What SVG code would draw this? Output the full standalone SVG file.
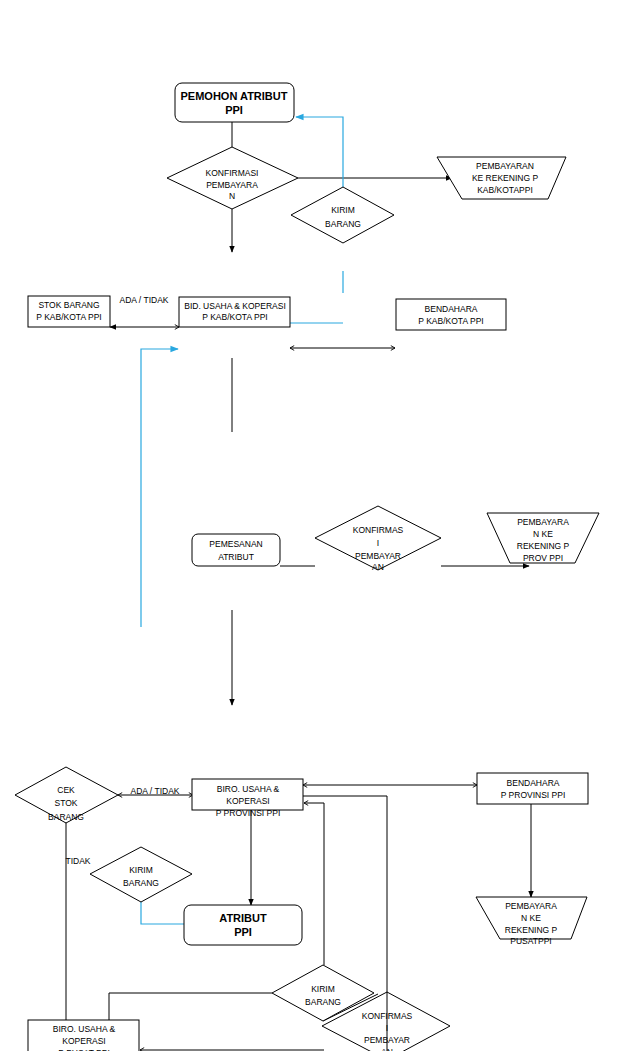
<svg xmlns="http://www.w3.org/2000/svg" width="638" height="1051" viewBox="0 0 638 1051">
<style>
.s{fill:#fff;stroke:#000;stroke-width:1}
.t{font-family:"Liberation Sans",Arial,sans-serif;font-size:8.5px;fill:#000;text-anchor:middle}
.b{font-family:"Liberation Sans",Arial,sans-serif;font-size:11px;font-weight:bold;fill:#000;text-anchor:middle}
.c{fill:none;stroke:#000;stroke-width:1}
.u{fill:none;stroke:#29a8e0;stroke-width:1.2}
</style>
<defs>
<marker id="a" viewBox="0 0 10 10" refX="9" refY="5" markerWidth="7" markerHeight="7" orient="auto-start-reverse"><path d="M0,1 L10,5 L0,9z" fill="#000"/></marker>
<marker id="o" viewBox="0 0 10 10" refX="9" refY="5" markerWidth="6" markerHeight="6" orient="auto-start-reverse"><path d="M2,1 L9,5 L2,9" fill="none" stroke="#000" stroke-width="1.5"/></marker>
<marker id="ab" viewBox="0 0 10 10" refX="9" refY="5" markerWidth="7" markerHeight="7" orient="auto"><path d="M0,1 L10,5 L0,9z" fill="#29a8e0"/></marker>
</defs>
<rect width="638" height="1051" fill="#fff"/>
<g id="connectors">
<path class="c" d="M232,122V147"/>
<path class="c" d="M232,209V252" marker-end="url(#a)"/>
<path class="c" d="M298,178H452" marker-end="url(#a)"/>
<path class="u" d="M343,187V117H296" marker-end="url(#ab)"/>
<path class="u" d="M343,271V293"/>
<path class="u" d="M290,323H343"/>
<path class="c" d="M110,327H179" marker-start="url(#a)" marker-end="url(#o)"/>
<path class="c" d="M290,348H395" marker-start="url(#o)" marker-end="url(#o)"/>
<path class="u" d="M141,627V349H178" marker-end="url(#ab)"/>
<path class="c" d="M232,358V432"/>
<path class="c" d="M280,566H315"/>
<path class="c" d="M441,566H529" marker-end="url(#a)"/>
<path class="c" d="M232,610V705" marker-end="url(#a)"/>
<path class="c" d="M118,795H193" marker-start="url(#o)" marker-end="url(#o)"/>
<path class="c" d="M251,810V905" marker-end="url(#a)"/>
<path class="u" d="M141,902V924H184"/>
<path class="c" d="M66,815V1026" marker-end="url(#a)"/>
<path class="c" d="M303,785H477" marker-start="url(#o)" marker-end="url(#o)"/>
<path class="c" d="M531,804V897" marker-end="url(#a)"/>
<path class="c" d="M303,796H387V1051"/>
<path class="c" d="M324,965V803H304" marker-end="url(#o)"/>
<path class="c" d="M272,993H109V1026"/>
<path class="c" d="M323,1021L378,994"/>
<path class="c" d="M324,1050H140" marker-end="url(#o)"/>
</g>
<g id="pemohon"><rect class="s" x="175" y="83" width="119" height="39" rx="7"/><text class="b" x="234" y="100">PEMOHON ATRIBUT</text><text class="b" x="234" y="114">PPI</text></g>
<g id="konf1"><path class="s" d="M232,147L298,178L232,209L167,178z"/><text class="t" x="232" y="176">KONFIRMASI</text><text class="t" x="232" y="188">PEMBAYARA</text><text class="t" x="232" y="199">N</text></g>
<g id="bayar1"><path class="s" d="M437,157H566L548,199H462z"/><text class="t" x="505" y="169">PEMBAYARAN</text><text class="t" x="505" y="181">KE REKENING  P</text><text class="t" x="505" y="193">KAB/KOTAPPI</text></g>
<g id="kirim1"><path class="s" d="M343,187L394,215L343,243L291,215z"/><text class="t" x="343" y="213">KIRIM</text><text class="t" x="343" y="227">BARANG</text></g>
<g id="stok1"><rect class="s" x="28" y="296" width="82" height="31"/><text class="t" x="69" y="308">STOK BARANG</text><text class="t" x="69" y="320">P KAB/KOTA PPI</text></g>
<text class="t" x="144" y="303">ADA / TIDAK</text>
<g id="bid"><rect class="s" x="179" y="297" width="111" height="30"/><text class="t" x="235" y="309">BID. USAHA &amp; KOPERASI</text><text class="t" x="235" y="320">P KAB/KOTA PPI</text></g>
<g id="bend1"><rect class="s" x="396" y="299" width="110" height="31"/><text class="t" x="451" y="312">BENDAHARA</text><text class="t" x="451" y="324">P KAB/KOTA PPI</text></g>
<g id="pemesanan"><rect class="s" x="192" y="534" width="88" height="32" rx="6"/><text class="t" x="236" y="547">PEMESANAN</text><text class="t" x="236" y="560">ATRIBUT</text></g>
<g id="konf2"><path class="s" d="M378,506L441,538L378,570L315,538z"/><text class="t" x="378" y="533">KONFIRMAS</text><text class="t" x="378" y="546">I</text><text class="t" x="378" y="559">PEMBAYAR</text><text class="t" x="378" y="570">AN</text></g>
<g id="bayar2"><path class="s" d="M487,513H599L575,563H510z"/><text class="t" x="543" y="525">PEMBAYARA</text><text class="t" x="543" y="537">N KE</text><text class="t" x="543" y="549">REKENING  P</text><text class="t" x="543" y="561">PROV PPI</text></g>
<g id="cek"><path class="s" d="M66,767L118,795L66,823L15,795z"/><text class="t" x="66" y="793">CEK</text><text class="t" x="66" y="806">STOK</text><text class="t" x="66" y="820">BARANG</text></g>
<text class="t" x="155" y="794">ADA / TIDAK</text>
<g id="biro1"><rect class="s" x="192" y="779" width="111" height="31"/><text class="t" x="248" y="792">BIRO. USAHA &amp;</text><text class="t" x="248" y="804">KOPERASI</text><text class="t" x="248" y="816">P PROVINSI PPI</text></g>
<text class="t" x="78" y="864">TIDAK</text>
<g id="kirim2"><path class="s" d="M141,847L192,874L141,902L90,874z"/><text class="t" x="141" y="873">KIRIM</text><text class="t" x="141" y="886">BARANG</text></g>
<g id="atribut"><rect class="s" x="184" y="905" width="118" height="40" rx="7"/><text class="b" x="243" y="922">ATRIBUT</text><text class="b" x="243" y="936">PPI</text></g>
<g id="bend2"><rect class="s" x="477" y="773" width="111" height="31"/><text class="t" x="533" y="786">BENDAHARA</text><text class="t" x="533" y="798">P PROVINSI PPI</text></g>
<g id="bayar3"><path class="s" d="M476,897H587L571,939H500z"/><text class="t" x="531" y="909">PEMBAYARA</text><text class="t" x="531" y="921">N KE</text><text class="t" x="531" y="933">REKENING  P</text><text class="t" x="531" y="944">PUSATPPI</text></g>
<g id="kirim3"><path class="s" d="M323,965L374,993L323,1021L272,993z"/><text class="t" x="323" y="992">KIRIM</text><text class="t" x="323" y="1005">BARANG</text></g>
<g id="konf3"><path class="s" d="M387,992L450,1026L387,1060L322,1026z"/><path class="c" d="M387,992V1051"/><text class="t" x="387" y="1019">KONFIRMAS</text><text class="t" x="387" y="1031">I</text><text class="t" x="387" y="1043">PEMBAYAR</text><text class="t" x="387" y="1055">AN</text></g>
<g id="biro2"><rect class="s" x="28" y="1020" width="111" height="40"/><text class="t" x="84" y="1032">BIRO. USAHA &amp;</text><text class="t" x="84" y="1044">KOPERASI</text><text class="t" x="84" y="1056">P PUSAT PPI</text></g>
</svg>
